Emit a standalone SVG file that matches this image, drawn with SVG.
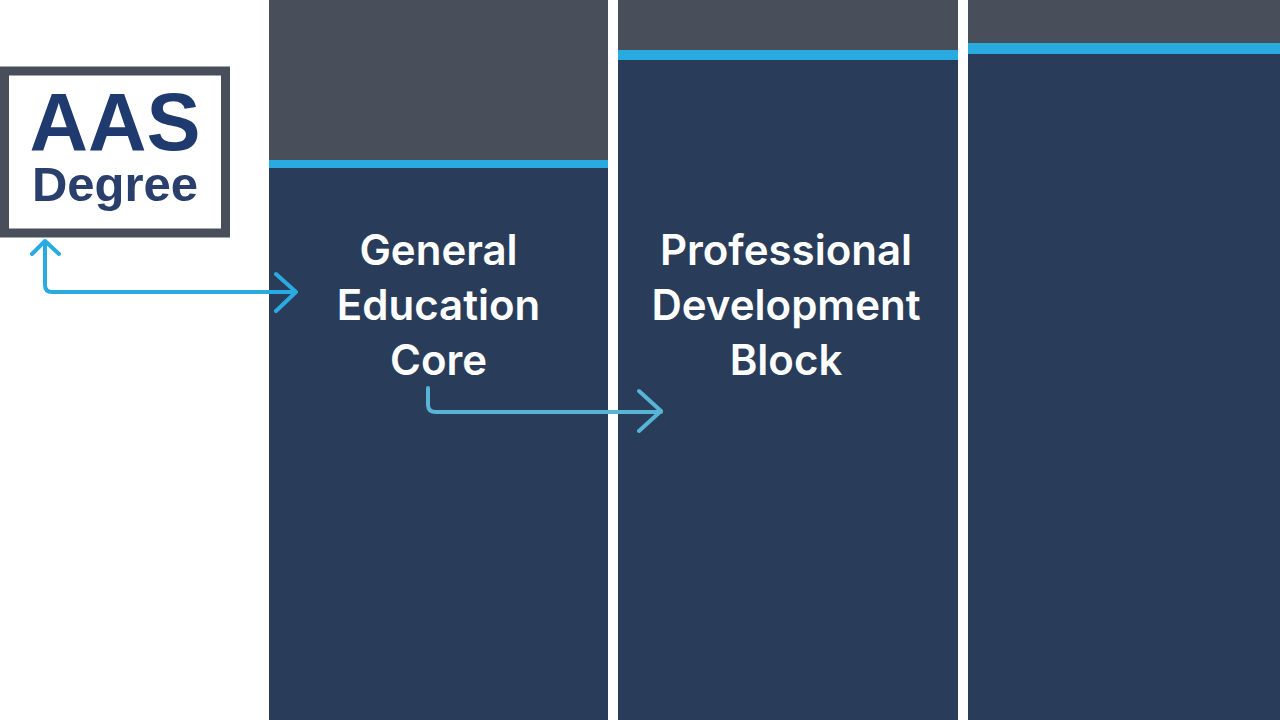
<svg xmlns="http://www.w3.org/2000/svg" width="1280" height="720" viewBox="0 0 1280 720">
<style>
.col{fill:#293d5a}
.top{fill:#484e5a}
.bar{fill:#29abe2}
.lbl{font-family:"Inter","Liberation Sans",sans-serif;font-weight:600;font-size:42px;fill:#fff;text-anchor:middle}
.aas{font-family:"Liberation Sans",Arial,sans-serif;font-weight:700;text-anchor:middle}
.cn{fill:none;stroke-width:4;stroke-linecap:round;stroke-linejoin:round}
</style>
<rect width="1280" height="720" fill="#fff"/>
<g id="column-general">
<rect class="top" x="269" y="0" width="339" height="162"/>
<rect class="col" x="269" y="167" width="339" height="553"/>
<rect class="bar" x="269" y="160" width="339" height="8"/>
<text class="lbl" x="438.500" y="265">General</text>
<text class="lbl" x="438.500" y="320">Education</text>
<text class="lbl" x="438.500" y="375">Core</text>
</g>
<g id="column-professional">
<rect class="top" x="618" y="0" width="340" height="52"/>
<rect class="col" x="618" y="58" width="340" height="662"/>
<rect class="bar" x="618" y="50" width="340" height="10"/>
<text class="lbl" x="786" y="265">Professional</text>
<text class="lbl" x="786" y="320">Development</text>
<text class="lbl" x="786" y="375">Block</text>
</g>
<g id="column-third">
<rect class="top" x="968" y="0" width="312" height="46"/>
<rect class="col" x="968" y="52" width="312" height="668"/>
<rect class="bar" x="968" y="43" width="312" height="11"/>
</g>
<g id="aas-degree">
<rect x="4.500" y="71" width="221" height="162" fill="#fff" stroke="#484e5a" stroke-width="9"/>
<text class="aas" x="115" y="150" font-size="81" fill="#1f3a6e">AAS</text>
<text class="aas" x="115" y="201" font-size="49" fill="#2a3f6c">Degree</text>
</g>
<g id="connectors">
<path class="cn" stroke="#29abe2" d="M45 241V285Q45 292 52 292H294M32 254L45 241L59 254M276 274L296 292L276 311"/>
<path class="cn" stroke="#57b4d6" d="M428 388V405Q428 412 436 412H661M639 391L661 411L639 431"/>
</g>
</svg>
